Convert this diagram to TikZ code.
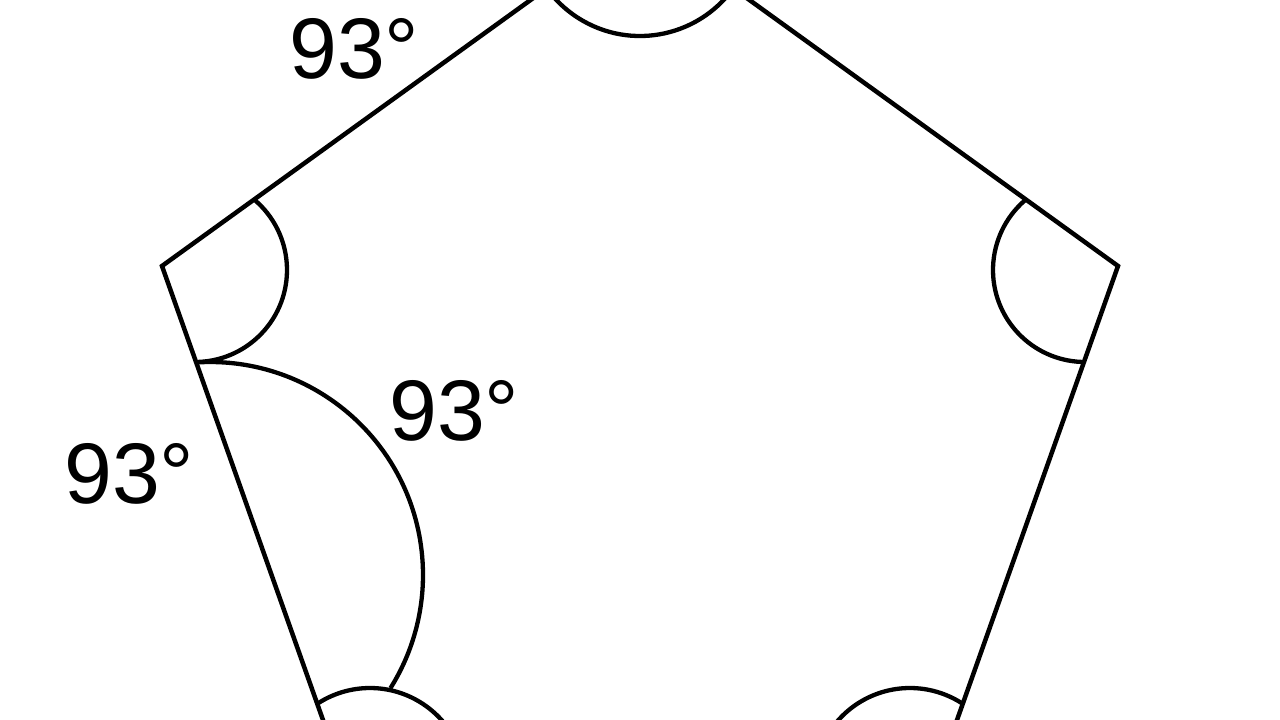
\documentclass[tikz,border=0pt]{standalone}
\usepackage{fontspec}
\setmainfont{Liberation Sans}
\begin{document}
\begin{tikzpicture}[x=1pt,y=-1pt,
  edge/.style={line width=4.5pt, line join=miter},
  angarc/.style={line width=4.3pt},
  lbl/.style={anchor=base west, inner sep=0pt, font=\fontsize{86}{86}\selectfont}]
\useasboundingbox (0,0) rectangle (1280,720);
\fill[white] (0,0) rectangle (1280,720);
\clip (0,0) rectangle (1280,720);
% vertices
\coordinate (T) at (640,-79);
\coordinate (L) at (162,266);
\coordinate (BL) at (362,830);
\coordinate (BR) at (918,830);
\coordinate (R) at (1118,266);
% pentagon sides
\draw[edge] (T) -- (L) -- (BL) -- (BR) -- (R) -- cycle;
% angle arcs
\draw[angarc] (640,-79) ++(30:115) arc[start angle=30, end angle=150, radius=115];
\draw[angarc] (195,270) ++(-49.4:92) arc[start angle=-49.4, end angle=88.1, radius=92];
\draw[angarc] (1085,270) ++(91.9:92) arc[start angle=91.9, end angle=229.4, radius=92];
\draw[angarc] (210,575) ++(-93.5:213) arc[start angle=-93.5, end angle=32.1, radius=213];
\draw[angarc] (370,784) ++(-122.5:96) arc[start angle=-122.5, end angle=-20, radius=96];
\draw[angarc] (910,784) ++(200:96) arc[start angle=200, end angle=302.5, radius=96];
% labels
\node[lbl] (a1) at (289,78) {93°};
\node[lbl] (a2) at (389,440) {93°};
\node[lbl] (a3) at (64,503) {93°};
\end{tikzpicture}
\end{document}
